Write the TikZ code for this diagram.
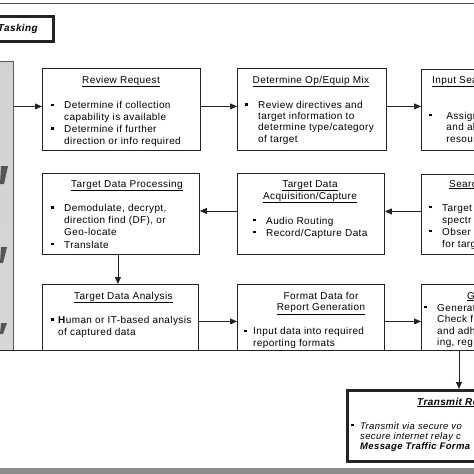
\documentclass[tikz,border=0pt]{standalone}
\usepackage{fontspec}
\setmainfont{Liberation Sans}[LetterSpace=4]
\usetikzlibrary{arrows.meta, positioning}

\definecolor{edge}{RGB}{35,35,35}
\definecolor{bargray}{RGB}{140,140,140}
\definecolor{wedgegray}{RGB}{85,85,85}

\newcommand{\bul}[1][13pt]{\makebox[#1][l]{\rule[2.6pt]{2.4pt}{2.4pt}}}
\newcommand{\ind}[1][13pt]{\hspace*{#1}}

\tikzset{
    box/.style={draw=edge, line width=0.9pt, rectangle, inner sep=0pt, anchor=north west},
    tbox/.style={box, line width=2.6pt},
    txt/.style={font=\fontsize{10}{11.7}\selectfont, inner sep=0pt, align=left},
    ttl/.style={font=\fontsize{10}{11.5}\selectfont, inner sep=0pt, align=center, anchor=base},
    arr/.style={-{Triangle[length=7pt,width=6pt]}, draw=edge, line width=0.9pt}
}

\begin{document}
\begin{tikzpicture}[x=1pt, y=-1pt]
    \useasboundingbox (0,0) rectangle (474,474);
    \clip (0,0) rectangle (474,474);

    % frame lines
    \draw[draw=gray!60!black, line width=1pt] (0,3) -- (474,3);
    \fill[bargray] (-5,468) rectangle (480,480);

    % left panel
    \node[box, draw=gray!70!black, top color=gray!35, middle color=gray!18, bottom color=gray!32,
          minimum width=18pt, minimum height=289pt] (panel) at (-5,61) {};
    \fill[wedgegray] (1,166) -- (8,166) -- (4,184) -- (0,184) -- cycle;
    \fill[wedgegray] (1,247) -- (7,247) -- (3,263) -- (0,263) -- cycle;
    \fill[wedgegray] (1,323) -- (7,323) -- (3,334) -- (0,334) -- cycle;

    % tasking label
    \node[tbox, minimum width=72pt, minimum height=25pt] (task) at (-20,15) {};
    \node[txt, anchor=base east, font=\fontsize{10}{12}\selectfont\bfseries\itshape] (taskT) at (38,31) {Tasking};

    % row 1 (list nodes sit on their last baseline)
    \node[box, minimum width=158pt, minimum height=82pt] (rr) at (42,68) {};
    \node[ttl] (rrT) at (121,83) {\underline{Review Request}};
    \node[txt, anchor=base west] (rrL) at (51,144) {\bul Determine if collection\\ \ind capability is available\\ \bul Determine if further\\ \ind direction or info required};

    \node[box, minimum width=149pt, minimum height=82pt] (dom) at (237,68) {};
    \node[ttl] (domT) at (311,83) {\underline{Determine Op/Equip Mix}};
    \node[txt, anchor=base west, font=\fontsize{10}{11.3}\selectfont] (domL) at (245,142) {\bul Review directives and\\ \ind target information to\\ \ind determine type/category\\ \ind of target};

    \node[box, minimum width=70pt, minimum height=81pt] (ins) at (421,69) {};
    \node[ttl, anchor=base west] (insT) at (432,83) {\underline{Input Sea}};
    \node[txt, anchor=base west, font=\fontsize{10}{11.5}\selectfont] (insL) at (429,142) {\bul[14pt] Assign\\ \ind[14pt] and al\\ \ind[14pt] resour};

    % row 2
    \node[box, minimum width=157pt, minimum height=81pt] (tdp) at (42,173) {};
    \node[ttl] (tdpT) at (127,187) {\underline{Target Data Processing}};
    \node[txt, anchor=base west, font=\fontsize{10}{12.2}\selectfont] (tdpL) at (51,248) {\bul Demodulate, decrypt,\\ \ind direction find (DF), or\\ \ind Geo-locate\\ \bul Translate};

    \node[box, minimum width=147pt, minimum height=81pt] (tda) at (237,173) {};
    \node[ttl, font=\fontsize{10}{12}\selectfont] (tdaT) at (310,199) {\underline{Target Data}\\ \underline{Acquisition/Capture}};
    \node[txt, anchor=base west, font=\fontsize{10}{12}\selectfont] (tdaL) at (253,236) {\bul Audio Routing\\ \bul Record/Capture Data};

    \node[box, minimum width=70pt, minimum height=80pt] (src) at (421,174) {};
    \node[ttl, anchor=base west] (srcT) at (449,187) {\underline{Searc}};
    \node[txt, anchor=base west, font=\fontsize{10}{12}\selectfont] (srcL) at (429,247) {\bul Target\\ \ind spectr\\ \bul Obser\\ \ind for targ};

    % row 3
    \node[box, minimum width=156pt, minimum height=66pt] (tan) at (42,284) {};
    \node[ttl] (tanT) at (123.5,299) {\underline{Target Data Analysis}};
    \node[txt, anchor=base west] (tanL) at (51,335) {\bul[7pt]\textbf{H}uman or IT-based analysis\\ \ind[7pt]of captured data};

    \node[box, minimum width=147pt, minimum height=66pt] (fmt) at (237,284) {};
    \node[ttl] (fmtT) at (321,310.5) {Format Data for\\ \underline{Report Generation}};
    \node[txt, anchor=base west, font=\fontsize{10}{11.5}\selectfont] (fmtL) at (244,346) {\bul[9pt]Input data into required\\ \ind[9pt]reporting formats};

    \node[box, minimum width=70pt, minimum height=66pt] (gen) at (421,284) {};
    \node[ttl, anchor=base west] (genT) at (467,299) {\underline{G}};
    \node[txt, anchor=base west, font=\fontsize{10}{11.5}\selectfont] (genL) at (424,345.5) {\bul Generat\\ \ind Check f\\ \ind and adh\\ \ind ing, reg};

    % transmit
    \node[tbox, minimum width=140pt, minimum height=71pt] (trm) at (346,389) {};
    \node[ttl, anchor=base west, font=\fontsize{10}{12}\selectfont\bfseries\itshape] (trmT) at (417,405) {\underline{Transmit Re}};
    \node[txt, anchor=base west, font=\fontsize{9.5}{10}\selectfont\itshape] (trmL) at (351,449) {\bul[9pt]Transmit via secure vo\\ \ind[9pt]secure internet relay c\\ \ind[9pt]\textbf{Message Traffic Forma}};

    % flow
    \draw[arr] ([yshift=3pt]panel.east |- rr.west) -- ([yshift=3pt]rr.west);
    \draw[arr] ([yshift=3pt]rr.east) -- ([yshift=3pt]rr.east -| dom.west);
    \draw[arr] ([yshift=3pt]dom.east) -- ([yshift=3pt]dom.east -| ins.west);
    \draw[arr] ([yshift=3pt]src.west) -- ([yshift=3pt]src.west -| tda.east);
    \draw[arr] ([yshift=3pt]tda.west) -- ([yshift=3pt]tda.west -| tdp.east);
    \draw[arr] ([xshift=-3pt]tdp.south) -- ([xshift=-3pt]tdp.south |- tan.north);
    \draw[arr] ([yshift=-4pt]tan.east) -- ([yshift=-4pt]tan.east -| fmt.west);
    \draw[arr] ([yshift=-4pt]fmt.east) -- ([yshift=-4pt]fmt.east -| gen.west);
    \draw[draw=edge, line width=0.9pt] (panel.south west) -- (panel.south west -| gen.east);
    \draw[arr] ([xshift=38pt]gen.south west) -- ([xshift=38pt]gen.south west |- trm.north);
\end{tikzpicture}
\end{document}
